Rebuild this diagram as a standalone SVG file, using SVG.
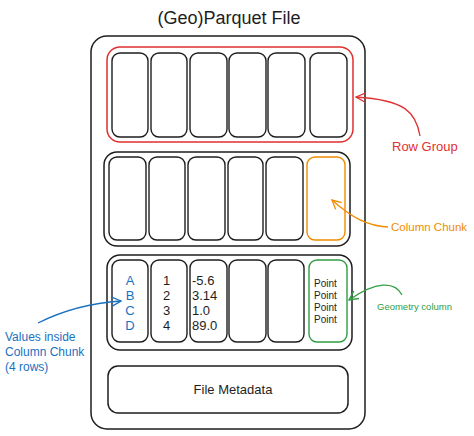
<svg xmlns="http://www.w3.org/2000/svg" width="474" height="436" viewBox="0 0 474 436">
<defs>
<style>
.box{fill:none;stroke:#1e1e1e;stroke-width:1.5}
.cell{fill:none;stroke:#1e1e1e;stroke-width:1.4}
.t{font-family:"Liberation Sans",Arial,sans-serif;fill:#1e1e1e}
.con{fill:none;stroke-width:1.3}
</style>
<marker id="ar" markerWidth="12" markerHeight="12" refX="0" refY="0" viewBox="-10 -6 12 12" orient="auto" markerUnits="userSpaceOnUse"><path d="M-9 -4.5 L0 0 L-9 4.5" fill="none" stroke="#e03131" stroke-width="1.3"/></marker>
<marker id="ao" markerWidth="12" markerHeight="12" refX="0" refY="0" viewBox="-10 -6 12 12" orient="auto" markerUnits="userSpaceOnUse"><path d="M-9 -4.5 L0 0 L-9 4.5" fill="none" stroke="#f08c00" stroke-width="1.3"/></marker>
<marker id="ag" markerWidth="12" markerHeight="12" refX="0" refY="0" viewBox="-10 -6 12 12" orient="auto" markerUnits="userSpaceOnUse"><path d="M-9 -4.5 L0 0 L-9 4.5" fill="none" stroke="#2f9e44" stroke-width="1.3"/></marker>
<marker id="ab" markerWidth="12" markerHeight="12" refX="0" refY="0" viewBox="-10 -6 12 12" orient="auto" markerUnits="userSpaceOnUse"><path d="M-9 -4.5 L0 0 L-9 4.5" fill="none" stroke="#1971c2" stroke-width="1.3"/></marker>
</defs>
<rect width="474" height="436" fill="#ffffff"/>

<g id="title"><text class="t" x="229" y="24" font-size="18" text-anchor="middle">(Geo)Parquet File</text></g>

<g id="file"><rect class="box" x="91" y="36" width="274" height="393" rx="16"/></g>

<g id="row-group-1">
<rect x="107" y="47" width="246" height="95" rx="13" fill="none" stroke="#e03131" stroke-width="1.5"/>
<rect class="cell" x="112" y="53" width="36" height="84" rx="8"/>
<rect class="cell" x="151" y="53" width="36" height="84" rx="8"/>
<rect class="cell" x="190" y="53" width="37" height="84" rx="8"/>
<rect class="cell" x="229" y="53" width="37" height="84" rx="8"/>
<rect class="cell" x="268" y="53" width="37" height="84" rx="8"/>
<rect class="cell" x="310" y="53" width="37" height="84" rx="8"/>
</g>

<g id="row-group-2">
<rect class="box" x="104" y="152" width="246" height="94" rx="13"/>
<rect class="cell" x="109" y="157" width="37" height="83" rx="8"/>
<rect class="cell" x="149" y="157" width="36" height="83" rx="8"/>
<rect class="cell" x="188" y="157" width="37" height="83" rx="8"/>
<rect class="cell" x="228" y="157" width="35" height="83" rx="8"/>
<rect class="cell" x="266" y="157" width="37" height="83" rx="8"/>
<rect x="307" y="157" width="38" height="83" rx="8" fill="none" stroke="#f08c00" stroke-width="1.4"/>
</g>

<g id="row-group-3">
<rect class="box" x="107" y="255" width="245" height="95" rx="13"/>
<rect class="cell" x="112" y="260" width="36" height="82" rx="8"/>
<rect class="cell" x="151" y="260" width="36" height="82" rx="8"/>
<rect class="cell" x="190" y="260" width="37" height="82" rx="8"/>
<rect class="cell" x="229" y="260" width="37" height="82" rx="8"/>
<rect class="cell" x="268" y="260" width="36" height="82" rx="8"/>
<rect x="309" y="260" width="38" height="82" rx="8" fill="none" stroke="#2f9e44" stroke-width="1.4"/>
<g class="t" font-size="13" fill="#1971c2" text-anchor="middle" style="fill:#1971c2">
<text x="130" y="285">A</text><text x="130" y="300">B</text><text x="130" y="315">C</text><text x="130" y="330">D</text>
</g>
<g class="t" font-size="13">
<text x="163" y="285">1</text><text x="163" y="300">2</text><text x="163" y="315">3</text><text x="163" y="330">4</text>
<text x="192" y="285">-5.6</text><text x="192" y="300">3.14</text><text x="192" y="315">1.0</text><text x="192" y="330">89.0</text>
</g>
<g class="t" font-size="10">
<text x="314" y="287">Point</text><text x="314" y="299">Point</text><text x="314" y="311">Point</text><text x="314" y="323">Point</text>
</g>
</g>

<g id="file-metadata">
<rect class="box" x="108" y="366" width="240" height="47" rx="10"/>
<text class="t" x="233" y="394" font-size="13" text-anchor="middle">File Metadata</text>
</g>

<g id="label-row-group"><text class="t" x="392" y="151" font-size="13" style="fill:#e03131">Row Group</text></g>
<g id="label-column-chunk"><text class="t" x="391" y="231" font-size="11.5" style="fill:#f08c00">Column Chunk</text></g>
<g id="label-geometry"><text class="t" x="377" y="310" font-size="9.5" style="fill:#2f9e44">Geometry column</text></g>
<g id="label-values" class="t" font-size="12" style="fill:#1971c2">
<text x="5" y="341">Values inside</text>
<text x="5" y="356">Column Chunk</text>
<text x="5" y="371">(4 rows)</text>
</g>

<g id="connectors">
<path class="con" stroke="#e03131" d="M420 136 C416 112, 405 100, 356 97" marker-end="url(#ar)"/>
<path class="con" stroke="#f08c00" d="M388 227 C368 226, 352 218, 332 200" marker-end="url(#ao)"/>
<path class="con" stroke="#2f9e44" d="M402 295 C395 281, 376 281, 349 300" marker-end="url(#ag)"/>
<path class="con" stroke="#1971c2" d="M38 323 C62 311, 90 303, 121 301" marker-end="url(#ab)"/>
</g>
</svg>
